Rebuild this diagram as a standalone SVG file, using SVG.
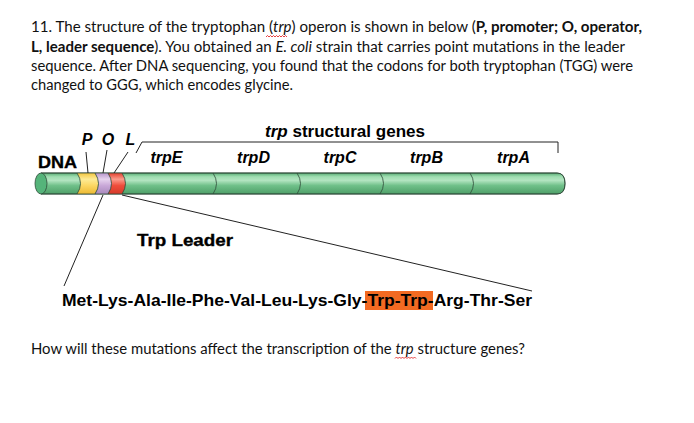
<svg xmlns="http://www.w3.org/2000/svg" width="694" height="423" viewBox="0 0 694 423">
<defs>
<style>
.para{font-family:Lato,"Open Sans","Liberation Sans",sans-serif;font-size:14.5px;fill:#111}
.b{font-weight:bold}
.i{font-style:italic}
.lab{font-family:"Liberation Sans",Arial,sans-serif;font-weight:bold;fill:#000}
.heavy{stroke:#000;stroke-width:0.35}
.gene{font-family:"Liberation Sans",Arial,sans-serif;font-weight:bold;font-style:italic;font-size:16px;fill:#000}
.ln{stroke:#222;stroke-width:1;fill:none}
.edge{stroke:#2e4a38;stroke-width:0.8;fill:none}
.sq{stroke:#e01010;stroke-width:0.8;fill:none}
</style>
<linearGradient id="gG" x1="0" y1="0" x2="0" y2="1">
<stop offset="0" stop-color="#58ad74"/><stop offset="0.18" stop-color="#9fddb1"/><stop offset="0.35" stop-color="#b3e5c1"/><stop offset="0.6" stop-color="#6fc089"/><stop offset="1" stop-color="#4e9f68"/>
</linearGradient>
<linearGradient id="gY" x1="0" y1="0" x2="0" y2="1">
<stop offset="0" stop-color="#f3c640"/><stop offset="0.3" stop-color="#fdeb95"/><stop offset="0.6" stop-color="#fbd763"/><stop offset="1" stop-color="#ecb933"/>
</linearGradient>
<linearGradient id="gP" x1="0" y1="0" x2="0" y2="1">
<stop offset="0" stop-color="#b896cb"/><stop offset="0.3" stop-color="#e6d3ee"/><stop offset="0.6" stop-color="#c9a8d8"/><stop offset="1" stop-color="#a98abd"/>
</linearGradient>
<linearGradient id="gR" x1="0" y1="0" x2="0" y2="1">
<stop offset="0" stop-color="#e3402f"/><stop offset="0.3" stop-color="#fb9c8c"/><stop offset="0.6" stop-color="#ef4d3b"/><stop offset="1" stop-color="#d43a2a"/>
</linearGradient>
</defs>
<rect width="694" height="423" fill="#fff"/>

<g id="question">
<text class="para" x="31" y="32.3" textLength="611" lengthAdjust="spacingAndGlyphs">11. The structure of the tryptophan (<tspan class="i">trp</tspan>) operon is shown in below (<tspan class="b">P, promoter; O, operator,</tspan></text>
<text class="para" x="31" y="51.7" textLength="594" lengthAdjust="spacingAndGlyphs"><tspan class="b">L, leader sequence</tspan>). You obtained an <tspan class="i">E. coli</tspan> strain that carries point mutations in the leader</text>
<text class="para" x="31" y="70.8" textLength="602" lengthAdjust="spacingAndGlyphs">sequence. After DNA sequencing, you found that the codons for both tryptophan (TGG) were</text>
<text class="para" x="31" y="90" textLength="262" lengthAdjust="spacingAndGlyphs">changed to GGG, which encodes glycine.</text>
<path class="sq" d="M266 37 l1.5 -1.5 l1.5 1.5 l1.5 -1.5 l1.5 1.5 l1.5 -1.5 l1.5 1.5 l1.5 -1.5 l1.5 1.5 l1.5 -1.5 l1.5 1.5 l1.5 -1.5 l1.5 1.5 l1.5 -1.5 l1.5 1.5"/>
</g>

<g id="dna">
<path d="M41 173 L557 173 Q565 173 565 183.5 Q565 194 557 194 L41 194 Z" fill="url(#gG)" stroke="#2e4a38" stroke-width="0.8"/>
<path d="M77 173 Q84 183.5 77 194 L95 194 Q102 183.5 95 173 Z" fill="url(#gY)"/>
<path d="M95 173 Q102 183.5 95 194 L108 194 Q115 183.5 108 173 Z" fill="url(#gP)"/>
<path d="M108 173 Q115 183.5 108 194 L122 194 Q129 183.5 122 173 Z" fill="url(#gR)"/>
<path class="edge" d="M77 173 Q84 183.5 77 194 M95 173 Q102 183.5 95 194 M108 173 Q115 183.5 108 194 M122 173 Q129 183.5 122 194 M213 173 Q220 183.5 213 194 M297 173 Q304 183.5 297 194 M380 173 Q387 183.5 380 194 M470 173 Q477 183.5 470 194"/>
<path class="edge" d="M41 173 L557 173 Q565 173 565 183.5 Q565 194 557 194 L41 194"/>
<ellipse cx="41" cy="183.5" rx="6" ry="10.5" fill="#55b47a" stroke="#2e4a38" stroke-width="0.8"/>
</g>

<g id="labels">
<text class="lab heavy" x="38" y="168" font-size="16" textLength="39" lengthAdjust="spacingAndGlyphs">DNA</text>
<text class="gene" x="87" y="145" text-anchor="middle">P</text>
<text class="gene" x="108" y="145" text-anchor="middle">O</text>
<text class="gene" x="130.5" y="145" text-anchor="middle">L</text>
<text class="lab" x="265" y="136.7" font-size="16" textLength="160" lengthAdjust="spacingAndGlyphs"><tspan font-style="italic">trp</tspan> structural genes</text>
<text class="gene" x="166.5" y="163.3" text-anchor="middle">trpE</text>
<text class="gene" x="253.5" y="163.3" text-anchor="middle">trpD</text>
<text class="gene" x="340" y="163.3" text-anchor="middle">trpC</text>
<text class="gene" x="426.5" y="163.3" text-anchor="middle">trpB</text>
<text class="gene" x="513.5" y="163.3" text-anchor="middle">trpA</text>
<text class="lab heavy" x="137" y="245.5" font-size="17" textLength="96" lengthAdjust="spacingAndGlyphs">Trp Leader</text>
</g>

<g id="connectors">
<line class="ln" x1="86" y1="152" x2="88" y2="173"/>
<line class="ln" x1="107" y1="150" x2="103" y2="173"/>
<line class="ln" x1="128" y1="152" x2="114" y2="173"/>
<polyline class="ln" points="136,153 142,142 558,142 558,153"/>
<line class="ln" x1="103" y1="195" x2="64" y2="286"/>
<line class="ln" x1="122" y1="195" x2="532" y2="291"/>
</g>

<g id="sequence">
<rect x="365" y="291" width="68" height="19" fill="#f26a22"/>
<text class="lab" x="62" y="305.5" font-size="17" textLength="470" lengthAdjust="spacingAndGlyphs">Met-Lys-Ala-Ile-Phe-Val-Leu-Lys-Gly-Trp-Trp-Arg-Thr-Ser</text>
</g>

<g id="question2">
<text class="para" x="31" y="354.3" textLength="494" lengthAdjust="spacingAndGlyphs">How will these mutations affect the transcription of the <tspan class="i">trp</tspan> structure genes?</text>
<path class="sq" d="M395 358.5 l1.5 -1.5 l1.5 1.5 l1.5 -1.5 l1.5 1.5 l1.5 -1.5 l1.5 1.5 l1.5 -1.5 l1.5 1.5 l1.5 -1.5 l1.5 1.5 l1.5 -1.5 l1.5 1.5 l1.5 -1.5 l1.5 1.5"/>
</g>
</svg>
